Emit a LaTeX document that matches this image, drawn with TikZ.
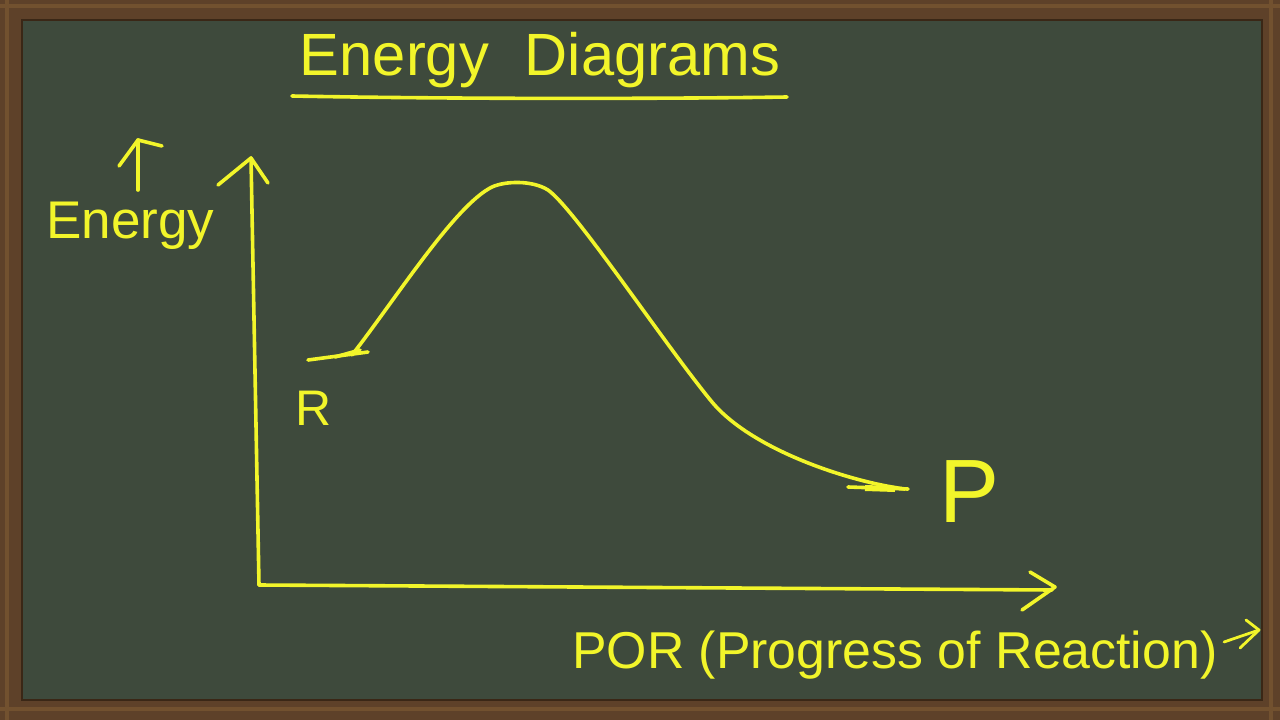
\documentclass[tikz,border=0pt]{standalone}
\usepackage{fontspec}
\setmainfont{Liberation Sans}
\usetikzlibrary{calc}
\definecolor{wood}{HTML}{5E4129}
\definecolor{wooddark}{HTML}{3A2716}
\definecolor{woodlight}{HTML}{72512F}
\definecolor{board}{HTML}{3E4A3C}
\definecolor{chalk}{HTML}{F2F52A}
\tikzset{
  chalkline/.style={draw=chalk, line width=3.6pt, line cap=round, line join=round},
  chalktext/.style={text=chalk, inner sep=0pt},
}
\begin{document}
\begin{tikzpicture}[x=1pt,y=-1pt]
\useasboundingbox (0,0) rectangle (1280,720);
% frame
\fill[wood] (0,0) rectangle (1280,720);
\fill[woodlight] (0,4) rectangle (1280,8);
\fill[woodlight] (5,0) rectangle (9,720);
\fill[woodlight] (0,707) rectangle (1280,711);
\fill[woodlight] (1269,0) rectangle (1273,720);
\fill[board] (22,20) rectangle (1262,700);
\draw[wooddark, line width=2pt] (22,20) rectangle (1262,700);

% title
\node[chalktext, anchor=base] (title) at (540,75) {\resizebox{480pt}{!}{Energy\hspace{0.6em}Diagrams}};
\coordinate (ulA) at (292,96);
\coordinate (ulB) at (787,97);
\draw[chalkline] (ulA) .. controls (450,99) and (650,99) .. (ulB);

% axes
\coordinate (O) at (259,585);
\coordinate (Ytop) at (251,158);
\coordinate (Xend) at (1052,590);
\draw[chalkline] (O) -- (Ytop);
\draw[chalkline] (O) -- (Xend);
\draw[chalkline] ($(Ytop)+(-33,27)$) -- (Ytop) -- ($(Ytop)+(17,25)$);
\draw[chalkline] ($(Xend)+(-22,-18)$) -- ($(Xend)+(3,-3)$) -- ($(Xend)+(-30,20)$);

% energy label with arrow
\coordinate (eArrB) at (138,190);
\coordinate (eArrT) at (138,140);
\draw[chalkline] (eArrB) -- (eArrT);
\draw[chalkline] (119,166) -- (eArrT) -- (162,146);
\node[chalktext, anchor=base west] (energy) at (46,238) {\resizebox{168pt}{!}{Energy}};

% curve
\coordinate (Rlev1) at (308,360);
\coordinate (Rlev2) at (368,352);
\coordinate (Plev1) at (848,487);
\coordinate (Plev2) at (908,489);
\coordinate (c0) at (352,355);
\coordinate (c1) at (492,187);
\coordinate (c2) at (548,190);
\coordinate (c3) at (712,402);
\coordinate (c4) at (905,489);
\draw[chalkline] (Rlev1) -- (Rlev2);
\draw[chalkline] (335,357) -- (360,350);
\draw[chalkline] (c0) .. controls (395,300) and (455,205) .. (c1)
  .. controls (505,181) and (532,180) .. (c2)
  .. controls (575,209) and (665,345) .. (c3)
  .. controls (752,450) and (850,482) .. (c4);
\draw[chalkline] (Plev1) -- (Plev2);
\draw[chalk, line width=6pt] (865,488) -- (895,489);

% R and P
\node[chalktext, anchor=base] (R) at (314,425) {\fontsize{50}{50}\selectfont R};
\node[chalktext, anchor=base] (P) at (970,522) {\fontsize{90}{90}\selectfont P};

% x-axis label
\node[chalktext, anchor=base west] (por) at (572,668) {\resizebox{645pt}{!}{POR (Progress of Reaction)}};
\coordinate (xa1) at (1224,642);
\coordinate (xa2) at (1259,630);
\draw[chalk, line width=2.8pt, line cap=round, line join=round] (xa1) -- (xa2);
\draw[chalk, line width=2.8pt, line cap=round, line join=round] (1246,620) -- (xa2) -- (1240,648);
\end{tikzpicture}
\end{document}
